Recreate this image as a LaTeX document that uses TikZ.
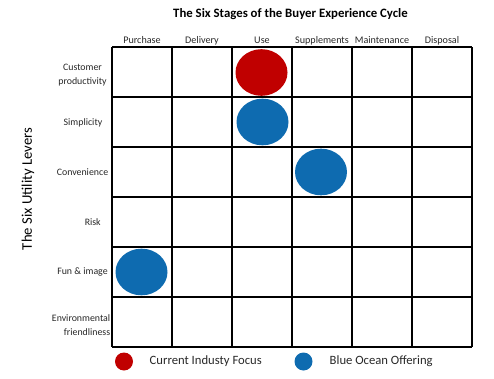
\documentclass[tikz,border=0pt]{standalone}
\usepackage{fontspec}
\setmainfont{Carlito}
\usepackage{tikz}
\usetikzlibrary{shapes.geometric}
\definecolor{focusred}{RGB}{192,0,0}
\definecolor{oceanblue}{RGB}{14,107,176}
\definecolor{labelgray}{RGB}{40,40,40}

\tikzset{
  stage/.style={font=\fontsize{7.6}{8}\selectfont, text=labelgray, anchor=base},
  lever/.style={font=\fontsize{7.4}{10.5}\selectfont, text=labelgray, inner sep=0pt},
  dot/.style={ellipse, inner sep=0pt, minimum width=39pt, minimum height=35pt},
  keydot/.style={circle, inner sep=0pt, minimum size=13.5pt},
  keytext/.style={font=\fontsize{9.5}{10}\selectfont, text=labelgray, anchor=west}
}

\begin{document}
\begin{tikzpicture}[x=0.75pt, y=-0.75pt]
    \useasboundingbox (0,0) rectangle (494,379);
    % title and axis label
    \node[font=\bfseries\fontsize{9.6}{10}\selectfont, anchor=base] (title) at (290.5,17.5) {The Six Stages of the Buyer Experience Cycle};
    \node[font=\fontsize{11}{12}\selectfont, rotate=90] (levers) at (28,189) {The Six Utility Levers};
    % grid
    \foreach \i in {0,...,6}
        \draw[line width=0.8pt] (112+60*\i,47) -- (112+60*\i,347);
    \foreach \j in {0,...,6}
        \draw[line width=0.8pt] (112,47+50*\j) -- (472,47+50*\j);
    % stages
    \foreach \s [count=\i from 0] in {Purchase,Delivery,Use,Supplements,Maintenance,Disposal}
        \node[stage] (stage\i) at (142+60*\i,43.5) {\s};
    % levers
    \node[lever, align=center] (productivity) at (82.5,75.5) {Customer\\productivity};
    \node[lever] (simplicity) at (83,122.5) {Simplicity};
    \node[lever] (convenience) at (82.5,172.5) {Convenience};
    \node[lever, anchor=east] (risk) at (101,222.5) {Risk};
    \node[lever] (fun) at (82.5,271.5) {Fun \& image};
    \node[lever, align=right, anchor=east] (environment) at (110.5,325) {Environmental\\friendliness};
    % offerings
    \node[dot, fill=focusred] (useprod) at (261.5,72.5) {};
    \node[dot, fill=oceanblue] (usesimple) at (262.5,122) {};
    \node[dot, fill=oceanblue] (supconv) at (321,172) {};
    \node[dot, fill=oceanblue] (purfun) at (141.5,272) {};
    % legend
    \node[keydot, fill=focusred] (keyred) at (124,361.5) {};
    \node[keytext] (keyredtext) at (145,361.5) {Current Industy Focus};
    \node[keydot, fill=oceanblue] (keyblue) at (303.5,361.5) {};
    \node[keytext] (keybluetext) at (325,361.5) {Blue Ocean Offering};
\end{tikzpicture}
\end{document}
